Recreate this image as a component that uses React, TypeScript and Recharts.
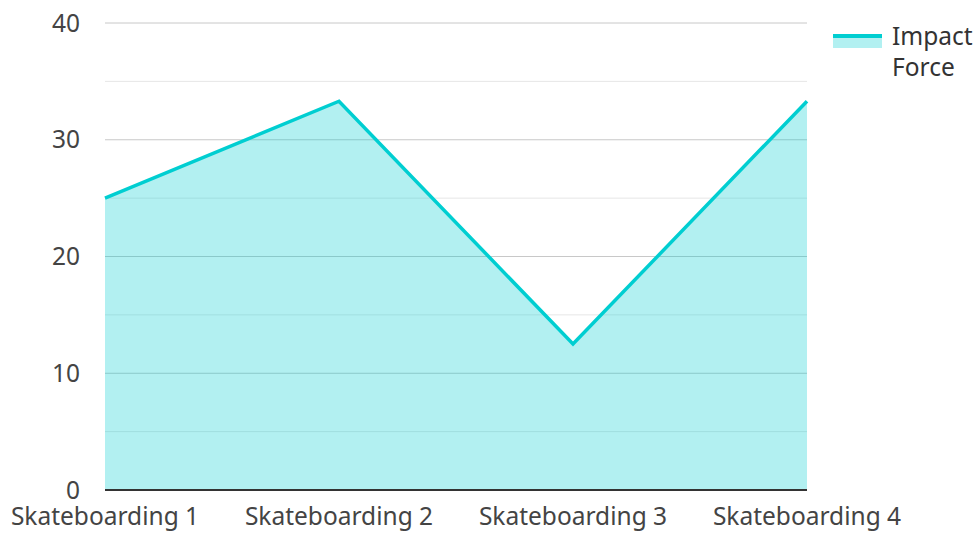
import { AreaChart, Area, XAxis, YAxis, CartesianGrid } from "recharts";

const categories = ["Skateboarding 1", "Skateboarding 2", "Skateboarding 3", "Skateboarding 4"];
const impactForce = [25, 33.3, 12.5, 33.3];
const majorTicks = [0, 10, 20, 30, 40];
const minorTicks = [5, 15, 25, 35];

const data = categories.map((name, i) => ({ name, force: impactForce[i] }));

const teal = "#00CED1";
const font = "'Noto Sans', sans-serif";

function LegendBox() {
  return (
    <div
      style={{
        position: "absolute",
        left: 833,
        top: 20,
        display: "flex",
        alignItems: "flex-start",
        fontFamily: font,
        fontSize: 24.5,
        color: "#333",
        lineHeight: "31px",
      }}
    >
      <svg width={50} height={31} style={{ flex: "none", marginRight: 9 }}>
        <rect x={0} y={16} width={49} height={12} fill={teal} fillOpacity={0.3} />
        <line x1={0} x2={49} y1={16} y2={16} stroke={teal} strokeWidth={4} />
      </svg>
      <span style={{ width: 84 }}>Impact Force</span>
    </div>
  );
}

export default function App() {
  return (
    <div style={{ position: "absolute", left: 0, top: 0, width: 977, height: 533, background: "#fff" }}>
      <AreaChart width={977} height={533} data={data} margin={{ top: 23, right: 170, left: 0, bottom: 0 }}>
        <CartesianGrid vertical={false} stroke="#e6e6e6" horizontalValues={minorTicks} />
        <CartesianGrid vertical={false} stroke="#c8c8c8" />
        <XAxis
          dataKey="name"
          scale="point"
          padding={{ left: 0, right: 0 }}
          axisLine={{ stroke: "#333", strokeWidth: 2 }}
          tickLine={false}
          tickSize={0}
          tickMargin={18}
          interval={0}
          height={43}
          tick={{ fontSize: 24.5, fill: "#444", fontFamily: font }}
        />
        <YAxis
          width={105}
          domain={[0, 40]}
          ticks={majorTicks}
          axisLine={false}
          tickLine={false}
          tickSize={0}
          tickMargin={25}
          tick={{ fontSize: 24.5, fill: "#444", fontFamily: font }}
        />
        <Area
          type="linear"
          dataKey="force"
          name="Impact Force"
          stroke={teal}
          strokeWidth={3.5}
          fill={teal}
          fillOpacity={0.3}
          dot={false}
          activeDot={false}
          isAnimationActive={false}
        />
      </AreaChart>
      <LegendBox />
    </div>
  );
}
